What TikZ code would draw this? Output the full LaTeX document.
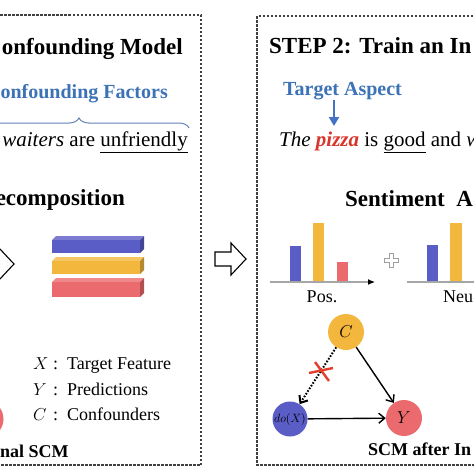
\documentclass[tikz,border=0pt]{standalone}
\usepackage{fontspec}
\setmainfont{Liberation Serif}
\usetikzlibrary{arrows.meta,positioning,decorations.pathreplacing}
\definecolor{aspectcol}{HTML}{3C72B6}
\definecolor{bracecol}{HTML}{6283B8}
\definecolor{arrowcol}{HTML}{4472C4}
\definecolor{xcol}{HTML}{5B5DC7}
\definecolor{ccol}{HTML}{F4B73D}
\definecolor{ycol}{HTML}{EB6A6E}
\definecolor{pizzacol}{HTML}{D8352C}
\definecolor{cutcol}{HTML}{E23F2C}
\definecolor{framecol}{HTML}{404040}
\newcommand{\bigbf}{\fontsize{23}{27}\selectfont\bfseries}
\newcommand{\midbf}{\fontsize{20}{24}\selectfont\bfseries}
\newcommand{\sentsz}{\fontsize{21}{25}\selectfont}
\newcommand{\smallsz}{\fontsize{18}{22}\selectfont}
\newcommand{\smallbf}{\fontsize{18}{22}\selectfont\bfseries}
\newcommand{\slab}[3]{\fill[#1!80!white] (52,#2+4) -- (56,#2) -- (144,#2) -- (140,#2+4) -- cycle;
\fill[#1] (52,#2+4) rectangle (140,#2+4+#3);
\fill[#1!75!black] (140,#2+4) -- (144,#2) -- (144,#2+#3) -- (140,#2+4+#3) -- cycle;}
\newcommand{\sentbar}[4]{\fill[#1] (#2,282) rectangle (#3,#4);}
\newcommand{\blockarrow}[2]{\draw[line width=1.1pt,fill=white] (#1-31,#2-7) -- (#1-15,#2-7) -- (#1-15,#2-16) -- (#1,#2) -- (#1-15,#2+16) -- (#1-15,#2+7) -- (#1-31,#2+7) -- cycle;}

\begin{document}
\begin{tikzpicture}[x=1pt,y=-1pt,
  frame/.style={framecol,line width=1.2pt,dash pattern=on 2.5pt off 1.5pt},
  txt/.style={inner sep=0pt},
  scmnode/.style={circle,inner sep=0pt,minimum size=36pt,font=\smallsz},
  scmarrow/.style={line width=1.4pt,-{Straight Barb[length=6pt,width=10pt]}},
  cutlink/.style={line width=2pt,dash pattern=on 1.6pt off 1.6pt,-{Straight Barb[length=6pt,width=10pt]}}]
\useasboundingbox (0,0) rectangle (474,474);
\clip (0,0) rectangle (474,474);
\fill[white] (0,0) rectangle (474,474);

% left panel
\draw[frame] (-5,15) rectangle (201,465);
\node[txt,anchor=base east,font=\bigbf] (lefttitle) at (183,54) {onfounding Model};
\node[txt,anchor=base east,font=\midbf,text=aspectcol] (factors) at (168,98) {onfounding Factors};
\draw[bracecol,line width=1pt,decorate,decoration={brace,amplitude=10pt}] (-31,128) -- (189,128);
\node[txt,anchor=base east,font=\sentsz] (leftsent) at (188,146) {\textit{waiters} are \underline{unfriendly}};
\node[txt,anchor=base east,font=\bigbf] (decomp) at (125,205) {ecomposition};
\blockarrow{14}{264}
\slab{xcol}{236}{13}
\slab{ccol}{257}{13}
\slab{ycol}{278}{15}
\node[scmnode,fill=ycol,minimum size=38pt] (Yorig) at (-15.5,419) {};
\node[txt,anchor=base west,font=\smallsz] (legx) at (33,369) {\makebox[20pt][l]{$X$}:\ \ Target Feature};
\node[txt,anchor=base west,font=\smallsz] (legy) at (33,395) {\makebox[20pt][l]{$Y$}:\ \ Predictions};
\node[txt,anchor=base west,font=\smallsz] (legc) at (33,420) {\makebox[20pt][l]{$C$}:\ \ Confounders};
\node[txt,anchor=base west,font=\smallbf] (nalscm) at (0,457) {nal SCM};

\blockarrow{246}{259}

% right panel
\draw[frame] (257,16) rectangle (490,465);
\node[txt,anchor=base west,font=\bigbf] (righttitle) at (269,53) {STEP 2: Train an In};
\node[txt,anchor=base west,font=\midbf,text=aspectcol] (aspect) at (283,95) {Target Aspect};
\coordinate (aspecttip) at (334,126);
\draw[arrowcol,line width=2.5pt,-{Triangle[length=9pt,width=10pt]}] (aspect.south -| aspecttip) -- (aspecttip);
\node[txt,anchor=base west,font=\sentsz] (rightsent) at (279,146) {\textit{The} \textcolor{pizzacol}{\textbf{\textit{pizza}}} is \underline{good} and \textit{w}};
\node[txt,anchor=base west,font=\bigbf] (sentiment) at (345,206) {Sentiment\ \ A};

\sentbar{xcol}{290}{301}{246}
\sentbar{ccol}{313}{324}{223}
\sentbar{ycol}{337}{348}{262}
\draw[gray!70,line width=1.2pt,-{Latex[black,length=7pt,width=6pt]}] (270,282) -- (375,282);
\node[txt,anchor=base,font=\smallsz] (pos) at (322,302) {Pos.};
\draw[gray!75,line width=0.8pt,fill=white] (389,253) -- (393,253) -- (393,258) -- (398,258) -- (398,262) -- (393,262) -- (393,267) -- (389,267) -- (389,262) -- (384,262) -- (384,258) -- (389,258) -- cycle;
\sentbar{xcol}{427}{438}{245}
\sentbar{ccol}{450}{462}{223}
\draw[gray!70,line width=1.2pt] (407,282) -- (480,282);
\node[txt,anchor=base west,font=\smallsz] (neu) at (443,302) {Neu};

\node[scmnode,fill=ccol] (C) at (346,332) {$C$};
\node[scmnode,fill=xcol,minimum size=35pt,font=\fontsize{12}{14}\selectfont] (doX) at (290,419) {$do(X)$};
\node[scmnode,fill=ycol] (Y) at (404,418) {$Y$};
\draw[scmarrow] (C) -- (Y);
\draw[scmarrow] (doX) -- (Y);
\draw[cutlink] (C) -- (doX);
\draw[cutcol,line width=2.4pt] (309,373) -- (333,368);
\draw[cutcol,line width=2.4pt] (315,362) -- (329,381);
\node[txt,anchor=base west,font=\smallbf] (scmafter) at (368,455) {SCM after In};
\end{tikzpicture}
\end{document}
